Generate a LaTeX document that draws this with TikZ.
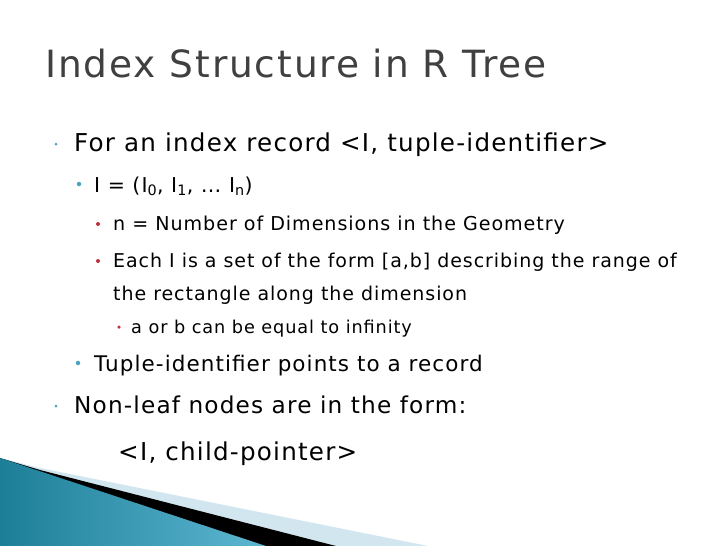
\documentclass[tikz,border=0pt]{standalone}
\usepackage{fontspec}
\setmainfont[LetterSpace=5]{DejaVu Sans}
\usetikzlibrary{positioning}
\definecolor{titlegrey}{HTML}{404040}
\definecolor{bulblue}{HTML}{4AA3C0}
\definecolor{bulred}{HTML}{C0303A}
\definecolor{swoosh}{HTML}{D2E6EF}
\definecolor{tealdark}{HTML}{1D7E98}
\definecolor{teallight}{HTML}{5DB7D1}
\begin{document}
\begin{tikzpicture}[x=1pt,y=-1pt]
	\useasboundingbox[fill=white] (0,0) rectangle (728,546);

	% corner decoration
	\fill[swoosh] (0,458) -- (40,468) -- (428,546) -- (0,546) -- cycle;
	\fill[black] (0,458) -- (40,470) -- (336,546) -- (0,546) -- cycle;
	\shade[left color=tealdark,right color=teallight] (0,458) -- (266,546) -- (0,546) -- cycle;

	\begin{scope}[every node/.style={anchor=base west,inner sep=0pt}]
		\node [text=titlegrey,font=\fontsize{37.5}{42}\selectfont] (titel) at (45,77) {Index Structure in R Tree};

		\node [font=\fontsize{24.6}{29}\selectfont] (rec) at (74,151) {For an index record <I, tuple-identifier>};
		\node [font=\fontsize{20.5}{24}\selectfont] (ivec) at (94,192) {I = (I\textsubscript{0}, I\textsubscript{1}, … I\textsubscript{n})};
		\node [font=\fontsize{19.1}{23}\selectfont] (dims) at (113,230) {n = Number of Dimensions in the Geometry};
		\node [font=\fontsize{19}{23}\selectfont] (each) at (113,267) {Each I is a set of the form [a,b] describing the range of};
		\node [font=\fontsize{19}{23}\selectfont] (eachb) at (113,300) {the rectangle along the dimension};
		\node [font=\fontsize{17.7}{21}\selectfont] (infin) at (131,333) {a or b can be equal to infinity};
		\node [font=\fontsize{21.5}{25}\selectfont] (tuple) at (94,371) {Tuple-identifier points to a record};
		\node [font=\fontsize{23.2}{28}\selectfont] (nonleaf) at (74,413) {Non-leaf nodes are in the form:};
		\node [font=\fontsize{24.6}{29}\selectfont] (child) at (118,460) {<I, child-pointer>};
	\end{scope}

	\begin{scope}[every node/.style={circle,inner sep=0pt}]
		\node [fill=bulblue,minimum size=3pt] (b1) at (56,144) {};
		\node [fill=bulblue,minimum size=4.5pt] (b2) at (79,184) {};
		\node [fill=bulred,minimum size=4pt] (b3) at (98,224) {};
		\node [fill=bulred,minimum size=4pt] (b4) at (98,261) {};
		\node [fill=bulred,minimum size=3.5pt] (b5) at (119,327) {};
		\node [fill=bulblue,minimum size=4.5pt] (b6) at (78,363) {};
		\node [fill=bulblue,minimum size=3pt] (b7) at (56,406) {};
	\end{scope}
\end{tikzpicture}
\end{document}
